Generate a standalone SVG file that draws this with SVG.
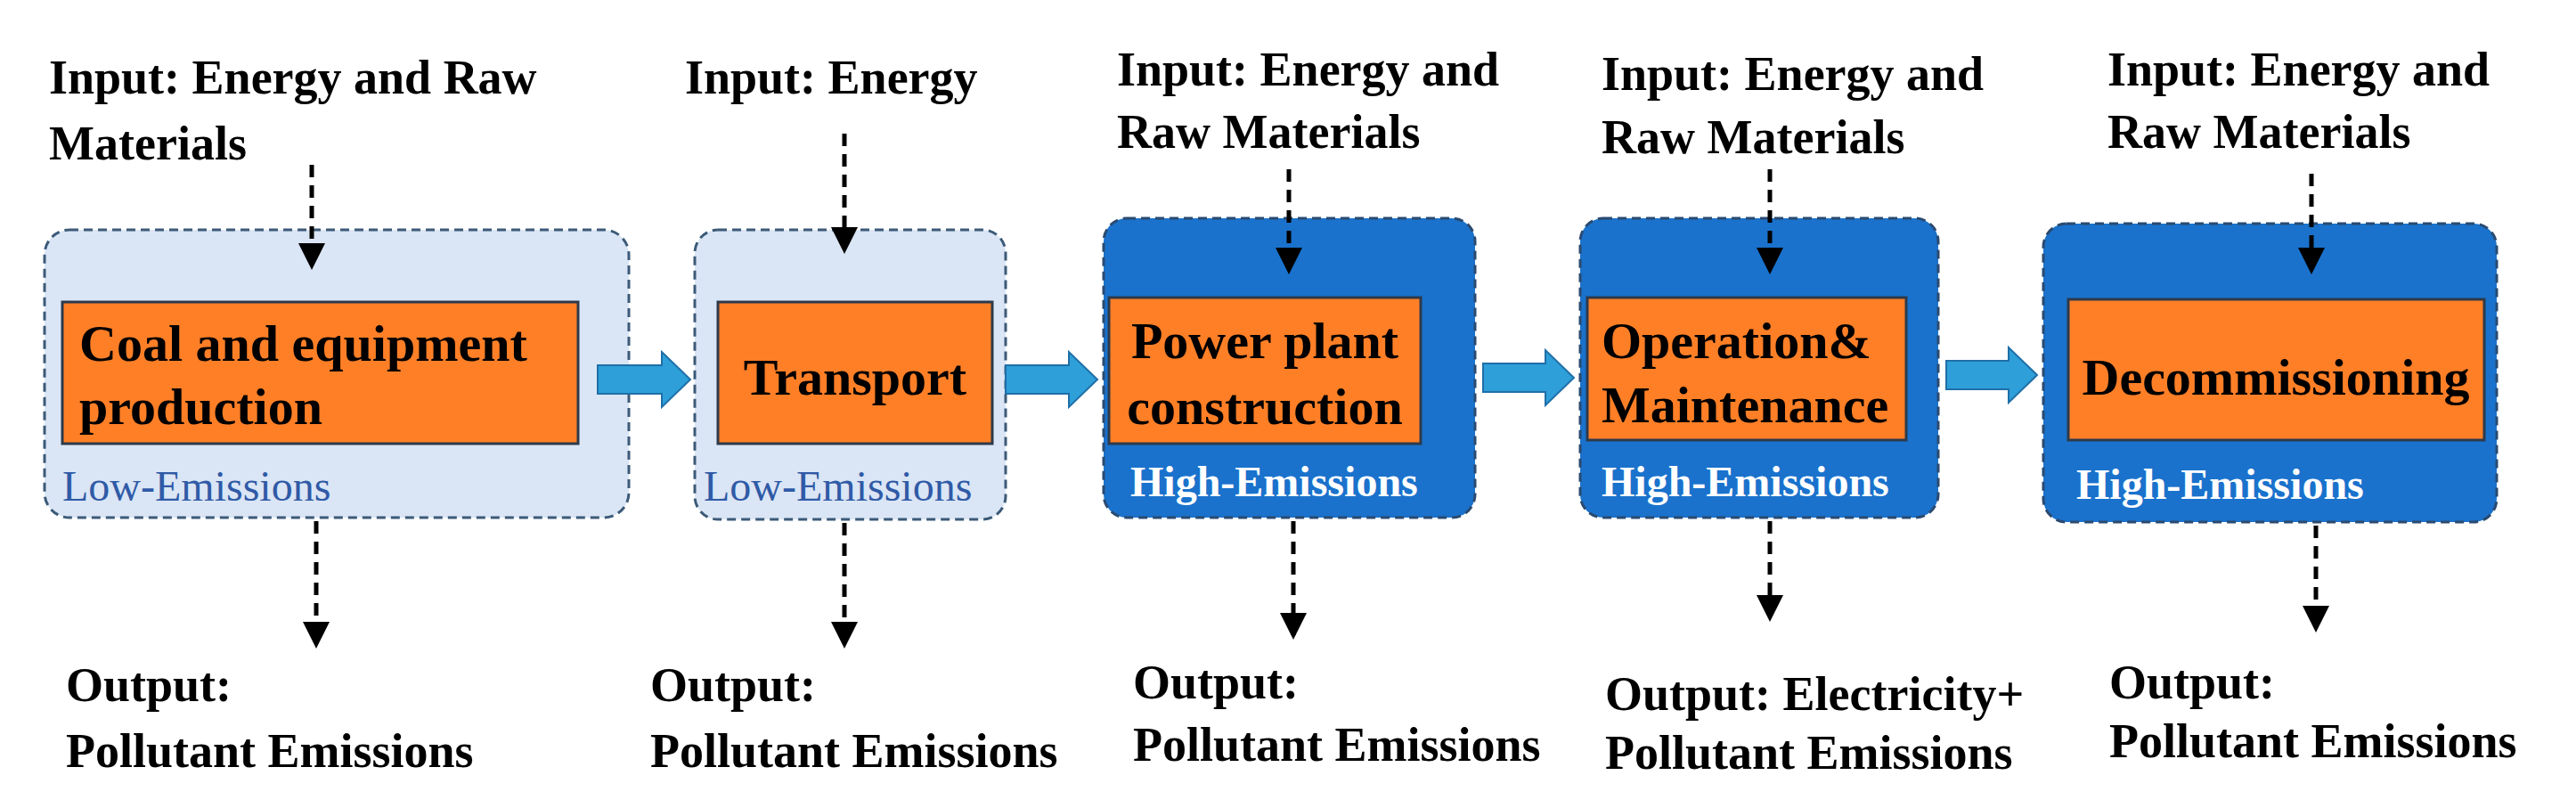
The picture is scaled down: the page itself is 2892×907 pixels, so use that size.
<svg xmlns="http://www.w3.org/2000/svg" width="2892" height="907" viewBox="0 0 2892 907">
<style>
.t{font-family:"Liberation Serif","Times New Roman",serif;font-weight:bold;font-size:54px;fill:#000}
.n{font-family:"Liberation Serif","Times New Roman",serif;font-weight:bold;font-size:58px;fill:#000}
.lo{font-family:"Liberation Serif","Times New Roman",serif;font-size:48px;fill:#2f5aa6}
.hi{font-family:"Liberation Serif","Times New Roman",serif;font-weight:bold;font-size:48px;fill:#fff}
.lb{fill:#dae5f5;stroke:#3c5a78;stroke-width:3;stroke-dasharray:10 6}
.db{fill:#1a72cc;stroke:#2a4a70;stroke-width:3;stroke-dasharray:10 6}
.or{fill:#ff7f27;stroke:#2d3a4a;stroke-width:3}
.da{stroke:#000;stroke-width:5;stroke-dasharray:14 9;fill:none;marker-end:url(#ah)}
.ba{fill:#2e9fd8;stroke:#1f6fa8;stroke-width:2}
</style>
<defs>
<marker id="ah" markerWidth="6" markerHeight="6" refX="5" refY="3" orient="auto" markerUnits="strokeWidth"><path d="M0,0 L6,3 L0,6 z" fill="#000"/></marker>
</defs>
<rect width="2892" height="907" fill="#fff"/>
<g id="node1">
<rect class="lb" x="50" y="258" width="656" height="323" rx="28"/>
<rect class="or" x="70" y="339" width="579" height="159"/>
<text class="n" x="89" y="405">Coal and equipment</text>
<text class="n" x="89" y="476">production</text>
<text class="lo" x="70" y="562">Low-Emissions</text>
</g>
<g id="node2">
<rect class="lb" x="780" y="258" width="349" height="325" rx="26"/>
<rect class="or" x="806" y="339" width="308" height="159"/>
<text class="n" x="960" y="443" text-anchor="middle">Transport</text>
<text class="lo" x="790" y="562">Low-Emissions</text>
</g>
<g id="node3">
<rect class="db" x="1239" y="245" width="417" height="336" rx="26"/>
<rect class="or" x="1245" y="334" width="350" height="164"/>
<text class="n" x="1420" y="402" text-anchor="middle">Power plant</text>
<text class="n" x="1420" y="476" text-anchor="middle">construction</text>
<text class="hi" x="1269" y="557">High-Emissions</text>
</g>
<g id="node4">
<rect class="db" x="1774" y="245" width="402" height="336" rx="26"/>
<rect class="or" x="1782" y="334" width="358" height="160"/>
<text class="n" x="1798" y="402">Operation&amp;</text>
<text class="n" x="1798" y="474">Maintenance</text>
<text class="hi" x="1798" y="557">High-Emissions</text>
</g>
<g id="node5">
<rect class="db" x="2294" y="251" width="509" height="335" rx="26"/>
<rect class="or" x="2322" y="336" width="467" height="158"/>
<text class="n" x="2555" y="443" text-anchor="middle">Decommissioning</text>
<text class="hi" x="2331" y="560">High-Emissions</text>
</g>
<g id="labels">
<text class="t" x="55" y="105">Input: Energy and Raw</text>
<text class="t" x="55" y="179">Materials</text>
<text class="t" x="769" y="105">Input: Energy</text>
<text class="t" x="1254" y="96">Input: Energy and</text>
<text class="t" x="1254" y="166">Raw Materials</text>
<text class="t" x="1798" y="101">Input: Energy and</text>
<text class="t" x="1798" y="172">Raw Materials</text>
<text class="t" x="2366" y="96">Input: Energy and</text>
<text class="t" x="2366" y="166">Raw Materials</text>
<text class="t" x="74" y="787">Output:</text>
<text class="t" x="74" y="861">Pollutant Emissions</text>
<text class="t" x="730" y="787">Output:</text>
<text class="t" x="730" y="861">Pollutant Emissions</text>
<text class="t" x="1272" y="784">Output:</text>
<text class="t" x="1272" y="854">Pollutant Emissions</text>
<text class="t" x="1802" y="797">Output: Electricity+</text>
<text class="t" x="1802" y="863">Pollutant Emissions</text>
<text class="t" x="2368" y="784">Output:</text>
<text class="t" x="2368" y="850">Pollutant Emissions</text>
</g>
<g id="connectors">
<path class="ba" d="M671,410 H743 V395 L775,426 L743,457 V442 H671 Z"/>
<path class="ba" d="M1129,410 H1200 V395 L1232,426 L1200,457 V442 H1129 Z"/>
<path class="ba" d="M1665,408 H1735 V393 L1767,424 L1735,455 V440 H1665 Z"/>
<path class="ba" d="M2185,405 H2255 V390 L2287,421 L2255,452 V437 H2185 Z"/>
<path class="da" d="M350,185 V298"/>
<path class="da" d="M948,150 V280"/>
<path class="da" d="M1447,190 V303"/>
<path class="da" d="M1987,190 V303"/>
<path class="da" d="M2595,195 V303"/>
<path class="da" d="M355,585 V723"/>
<path class="da" d="M948,587 V723"/>
<path class="da" d="M1452,585 V713"/>
<path class="da" d="M1987,585 V693"/>
<path class="da" d="M2600,590 V705"/>
</g>
</svg>
